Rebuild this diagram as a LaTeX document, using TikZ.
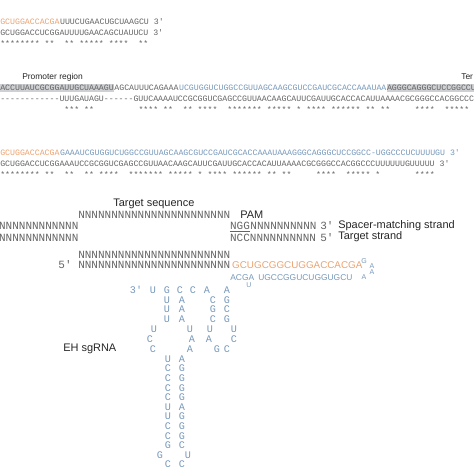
\documentclass[tikz,border=0pt]{standalone}
\usepackage{fontspec}
\setmainfont{Liberation Sans}
\setsansfont{Liberation Sans}
\setmonofont{Liberation Mono}
\usepackage{tikz}
\usetikzlibrary{positioning}
\definecolor{seqorange}{RGB}{236,162,112}
\definecolor{seqblue}{RGB}{118,152,186}
\definecolor{seqgray}{RGB}{100,100,100}
\definecolor{hlgray}{RGB}{206,208,211}
\tikzset{
  seq/.style  = {inner sep=0pt, anchor=base west, font=\ttfamily\fontsize{5.85}{7}\selectfont, text=seqgray},
  nseq/.style = {inner sep=0pt, anchor=base west, font=\ttfamily\fontsize{7.83}{9}\selectfont, text=seqgray},
  lbl/.style  = {inner sep=0pt, anchor=base west, font=\sffamily\fontsize{7.8}{9}\selectfont, text=black!85},
  small/.style= {inner sep=0pt, anchor=base west, font=\sffamily\fontsize{6}{7}\selectfont, text=black!85},
  hl/.style   = {fill=hlgray, inner ysep=0.6pt},
  rna/.style  = {inner sep=0pt, anchor=base west, font=\sffamily\fontsize{7}{8}\selectfont},
  loopnt/.style = {inner sep=0pt, font=\sffamily\fontsize{5}{6}\selectfont, text=seqblue},
  nt/.style   = {inner sep=0pt, anchor=base, yshift=-2.4pt, font=\ttfamily\fontsize{7.2}{9}\selectfont, text=seqblue},
}

\begin{document}
\begin{tikzpicture}[x=0.025cm, y=-0.025cm]
  \useasboundingbox (0,0) rectangle (474,474);

  % repeat alignment
  \node[seq, text=seqorange] (cra) at (0,24.7) {GCUGGACCACGA};
  \node[seq] (crb) at (cra.base east) {UUUCUGAACUGCUAAGCU~3′};
  \node[seq] (crc) at (0,35.7) {GCUGGACCUCGGAUUUUGAACAGCUAUUCU~3′};
  \node[seq] (crs) at (0,46.7) {********~**~~**~*****~****~~**};

  % tracrRNA locus alignment
  \node[small] (prom) at (22,79) {Promoter region};
  \node[small] (term) at (461,79) {Ter};
  \node[seq, hl] (ta1) at (0,90.7) {ACCUUAUCGCGGAUUGCUAAAGU};
  \node[seq] (ta2) at (ta1.base east) {AGCAUUUCAGAAA};
  \node[seq, text=seqblue] (ta3) at (ta2.base east) {UCGUGGUCUGGCCGUUAGCAAGCGUCCGAUCGCACCAAAUAA};
  \node[seq, hl] (ta4) at (ta3.base east) {AGGGCAGGGCUCCGGCCU};
  \node[seq] (tb) at (0,101.7) {------------UUUGAUAGU------GUUCAAAAUCCGCGGUCGAGCCGUUAACAAGCAUUCGAUUGCACCACAUUAAAACGCGGGCCACGGCCC};
  \node[seq] (ts) at (0,112.7) {~~~~~~~~~~~~~***~**~~~~~~~~~****~**~~**~****~~*******~*****~*~****~******~**~**~~~~~****~~*****};

  % sgRNA alignment
  \node[seq, text=seqorange] (sa1) at (0,155.7) {GCUGGACCACGA};
  \node[seq, text=seqblue] (sa2) at (sa1.base east) {GAAAUCGUGGUCUGGCCGUUAGCAAGCGUCCGAUCGCACCAAAUAAAGGGCAGGGCUCCGGCC-UGGCCCUCUUUUGU~3′};
  \node[seq] (sb) at (0,166.7) {GCUGGACCUCGGAAAUCCGCGGUCGAGCCGUUAACAAGCAUUCGAUUGCACCACAUUAAAACGCGGGCCACGGCCCUUUUUUGUUUUU~3′};
  \node[seq] (ss) at (0,177.7) {********~**~~**~~**~****~~*******~*****~*~****~******~**~**~~~~~****~~*****~*~~~~~~~****};

  % target DNA and sgRNA
  \node[lbl] (tseq) at (113,206) {Target sequence};
  \node[nseq] (nsp) at (78,218.6) {NNNNNNNNNNNNNNNNNNNNNNN};
  \node[lbl] (pam) at (240,218) {PAM};
  \node[nseq] (nl1) at (-1.2,229.6) {NNNNNNNNNNNN};
  \node[nseq] (ngg) at (229.8,229.6) {NGG};
  \node[nseq] (nr1) at (ngg.base east) {NNNNNNNNNN};
  \node[nseq] (end1) at (320,229.6) {3′};
  \draw[seqgray, line width=0.5pt] ([yshift=-1.3pt]ngg.base west) -- ([yshift=-1.3pt]ngg.base east);
  \node[lbl] (smat) at (338,228) {Spacer-matching strand};
  \node[nseq] (nl2) at (-1.2,241) {NNNNNNNNNNNN};
  \node[nseq] (ncc) at (229.8,241) {NCCNNNNNNNNNN};
  \node[nseq] (end2) at (320,241) {5′};
  \node[lbl] (tstr) at (338,239) {Target strand};
  \node[nseq] (ntg) at (78,258.6) {NNNNNNNNNNNNNNNNNNNNNNN};
  \node[nseq] (p5) at (58.2,268.6) {5′};
  \node[nseq] (ngd) at (78,268.6) {NNNNNNNNNNNNNNNNNNNNNNN};
  \node[rna, text=seqorange] (rep) at ([xshift=1pt]ngd.base east) {GCUGCGGCUGGACCACGA};
  \node[rna, font=\sffamily\fontsize{6}{7}\selectfont, text=seqblue] (anti1) at (230,280.5) {ACGA};
  \node[rna, font=\sffamily\fontsize{6}{7}\selectfont, text=seqblue] (anti2) at (258,280.5) {UGCCGGUCUGGUGCU};
  \node[loopnt] (lg) at (364,261) {G};
  \node[loopnt] (la1) at (372,266) {A};
  \node[loopnt] (la2) at (372,272) {A};
  \node[loopnt] (la3) at (364,277) {A};
  \node[loopnt] (bu) at (249,285) {U};

  \node[lbl] (eh) at (63,351) {EH sgRNA};

  \foreach \px/\py/\b [count=\k] in {
    136/290/3′, 153/290/U, 167/290/G, 180/290/C, 193/290/C, 207/290/A, 227/290/A,
    167/300/U, 182/300/A, 213/300/C, 227/300/G,
    167/309.5/U, 182/309.5/A, 213/309.5/G, 227/309.5/C,
    167/319/U, 182/319/A, 213/319/C, 227/319/G,
    154/329/U, 190/329/U, 210/329/U, 234/329/U,
    150/339/C, 192/339/A, 209/339/A, 234/339/C,
    153/349/C, 190/349/A, 217/349/G, 227/349/C,
    168/359/U, 182/359/A,
    168/368.6/C, 182/368.6/G,
    168/378.2/C, 182/378.2/G,
    168/387.8/C, 182/387.8/G,
    168/397.4/C, 182/397.4/G,
    168/407/U, 182/407/A,
    168/416.6/U, 182/416.6/G,
    168/426.2/C, 182/426.2/G,
    168/435.8/C, 182/435.8/G,
    168/445.4/G, 182/445.4/C,
    160/455/G, 188/455/U,
    168/464.6/C, 182/464.6/C}
    \node[nt] (s\k) at (\px,\py) {\b};
\end{tikzpicture}
\end{document}
